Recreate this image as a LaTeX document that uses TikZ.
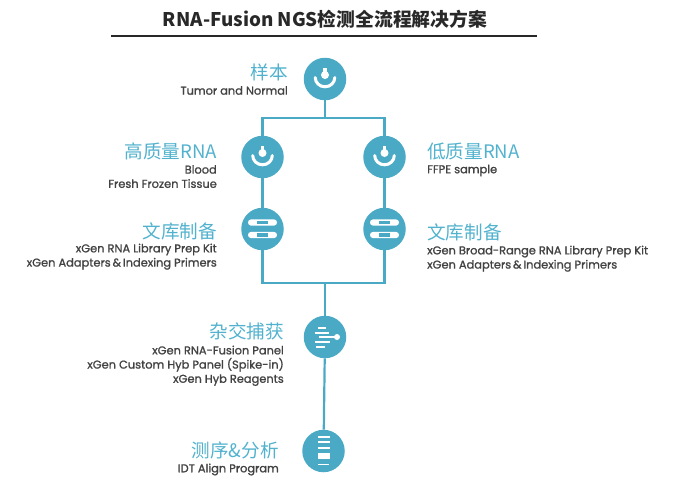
\documentclass[tikz,border=0pt]{standalone}
\usepackage{fontspec}
\setmainfont{Noto Sans CJK SC}
\newfontfamily\detailfont[FakeBold=1.2]{Poppins}
\definecolor{flowcyan}{RGB}{74, 170, 198}
\definecolor{labelcyan}{RGB}{82, 178, 206}
\definecolor{detailgray}{RGB}{66, 66, 66}
\definecolor{titledark}{RGB}{40, 40, 40}
\usetikzlibrary{positioning, calc}
\tikzset{
  stepdot/.style={circle, fill=flowcyan, minimum size=42.5pt, inner sep=0pt},
  flowline/.style={draw=flowcyan, line width=2.6pt, line join=miter},
  cnlabel/.style={text=labelcyan, font=\fontsize{18.6}{20}\selectfont, inner sep=0pt},
  detail/.style={text=detailgray, font=\fontsize{11.4}{14.2}\selectfont\detailfont, inner sep=0pt},
  dropicon/.pic={
    \fill[white] (0,-4) circle (4);
    \fill[white] (-1.7,-11) rectangle (1.7,-4);
    \draw[white, line width=3pt, line cap=round] (-9.8,-1.5) arc[start angle=180, end angle=360, x radius=9.8, y radius=-9.3];
  },
  pillicon/.pic={
    \foreach \yy in {-6.5,6} {
      \fill[white, rounded corners=3pt] (-14.5,\yy-3.1) rectangle (14.5,\yy+3.1);
      \fill[flowcyan] (-5.8,\yy-1.9) rectangle (5.8,\yy+1.6);
    }
  },
  hybicon/.pic={
    \foreach \xa/\xb/\yy in {-7/1/-9, -10/4/-4.5, -6/11/0, -10/5/4.8, -9/0/9.5} {
      \draw[white, line width=2pt] (\xa,\yy) -- (\xb,\yy);
    }
    \fill[white] (12,0) circle (3);
  },
  readicon/.pic={
    \fill[white] (-6,-15) rectangle (6,-13);
    \fill[white] (-6,-10) rectangle (6,-8);
    \fill[white] (-6,-3.7) rectangle (6,-2.4);
    \fill[white] (-6,1.5) rectangle (6,8);
    \fill[white] (-6,12.7) rectangle (5,14);
  },
}
\begin{document}
\begin{tikzpicture}[x=1pt, y=-1pt]
  \useasboundingbox (0,0) rectangle (681,480);

  % Title
  \node[font=\fontsize{18.8}{20}\selectfont\bfseries, text=titledark, inner sep=0pt] (title) at (325, 19) {RNA-Fusion NGS检测全流程解决方案};
  \coordinate (ruleL) at (111, 36);
  \coordinate (ruleR) at (537, 36);
  \draw[titledark, line width=2.6pt] (ruleL) -- (ruleR);

  % Step circles
  \node[stepdot] (sample) at (325, 79) {};
  \node[stepdot] (highq) at (262.5, 157) {};
  \node[stepdot] (lowq) at (384.5, 157) {};
  \node[stepdot] (libL) at (262.5, 229) {};
  \node[stepdot] (libR) at (384.5, 229) {};
  \node[stepdot] (hyb) at (325, 337) {};
  \node[stepdot] (align) at (323.5, 451) {};

  % Connectors
  \coordinate (split) at (325, 118);
  \coordinate (merge) at (325, 283);
  \draw[flowline] (sample) -- (split);
  \draw[flowline] (highq) |- (split) -| (lowq);
  \draw[flowline] (highq) -- (libL);
  \draw[flowline] (lowq) -- (libR);
  \draw[flowline] (libL) |- (merge) -| (libR);
  \draw[flowline] (merge) -- (hyb);
  \draw[flowline, line width=2.2pt] (hyb) -- (align);

  % Icons
  \path (sample) pic {dropicon};
  \path (highq) pic {dropicon};
  \path (lowq) pic {dropicon};
  \path (libL) pic {pillicon};
  \path (libR) pic {pillicon};
  \path (hyb) pic {hybicon};
  \path (align) pic {readicon};

  % Left side labels
  \node[cnlabel, anchor=east] (sampleT) at (288, 72) {样本};
  \node[detail, anchor=east] (sampleD) at (288, 90.5) {Tumor and Normal};
  \node[cnlabel, anchor=east] (highT) at (217, 151) {高质量RNA};
  \node[detail, anchor=north east, align=right] (highD) at (217, 165) {Blood\\Fresh Frozen Tissue};
  \node[cnlabel, anchor=east] (libLT) at (217, 231) {文库制备};
  \node[detail, anchor=north east, align=right] (libLD) at (217, 243.5) {xGen RNA Library Prep Kit\\xGen Adapters\,\&\,Indexing Primers};
  \node[cnlabel, anchor=east] (hybT) at (284, 331) {杂交捕获};
  \node[detail, anchor=north east, align=right] (hybD) at (284, 345.5) {xGen RNA-Fusion Panel\\xGen Custom Hyb Panel (Spike-in)\\xGen Hyb Reagents};
  \node[cnlabel, anchor=east] (alignT) at (279, 450) {测序\&分析};
  \node[detail, anchor=east] (alignD) at (279, 469.5) {IDT Align Program};

  % Right side labels
  \node[cnlabel, anchor=west] (lowT) at (427, 151) {低质量RNA};
  \node[detail, anchor=west] (lowD) at (427, 170.5) {FFPE sample};
  \node[cnlabel, anchor=west] (libRT) at (427, 232) {文库制备};
  \node[detail, anchor=north west, align=left] (libRD) at (427, 245.5) {xGen Broad-Range RNA Library Prep Kit\\xGen Adapters\,\&\,Indexing Primers};
\end{tikzpicture}
\end{document}
